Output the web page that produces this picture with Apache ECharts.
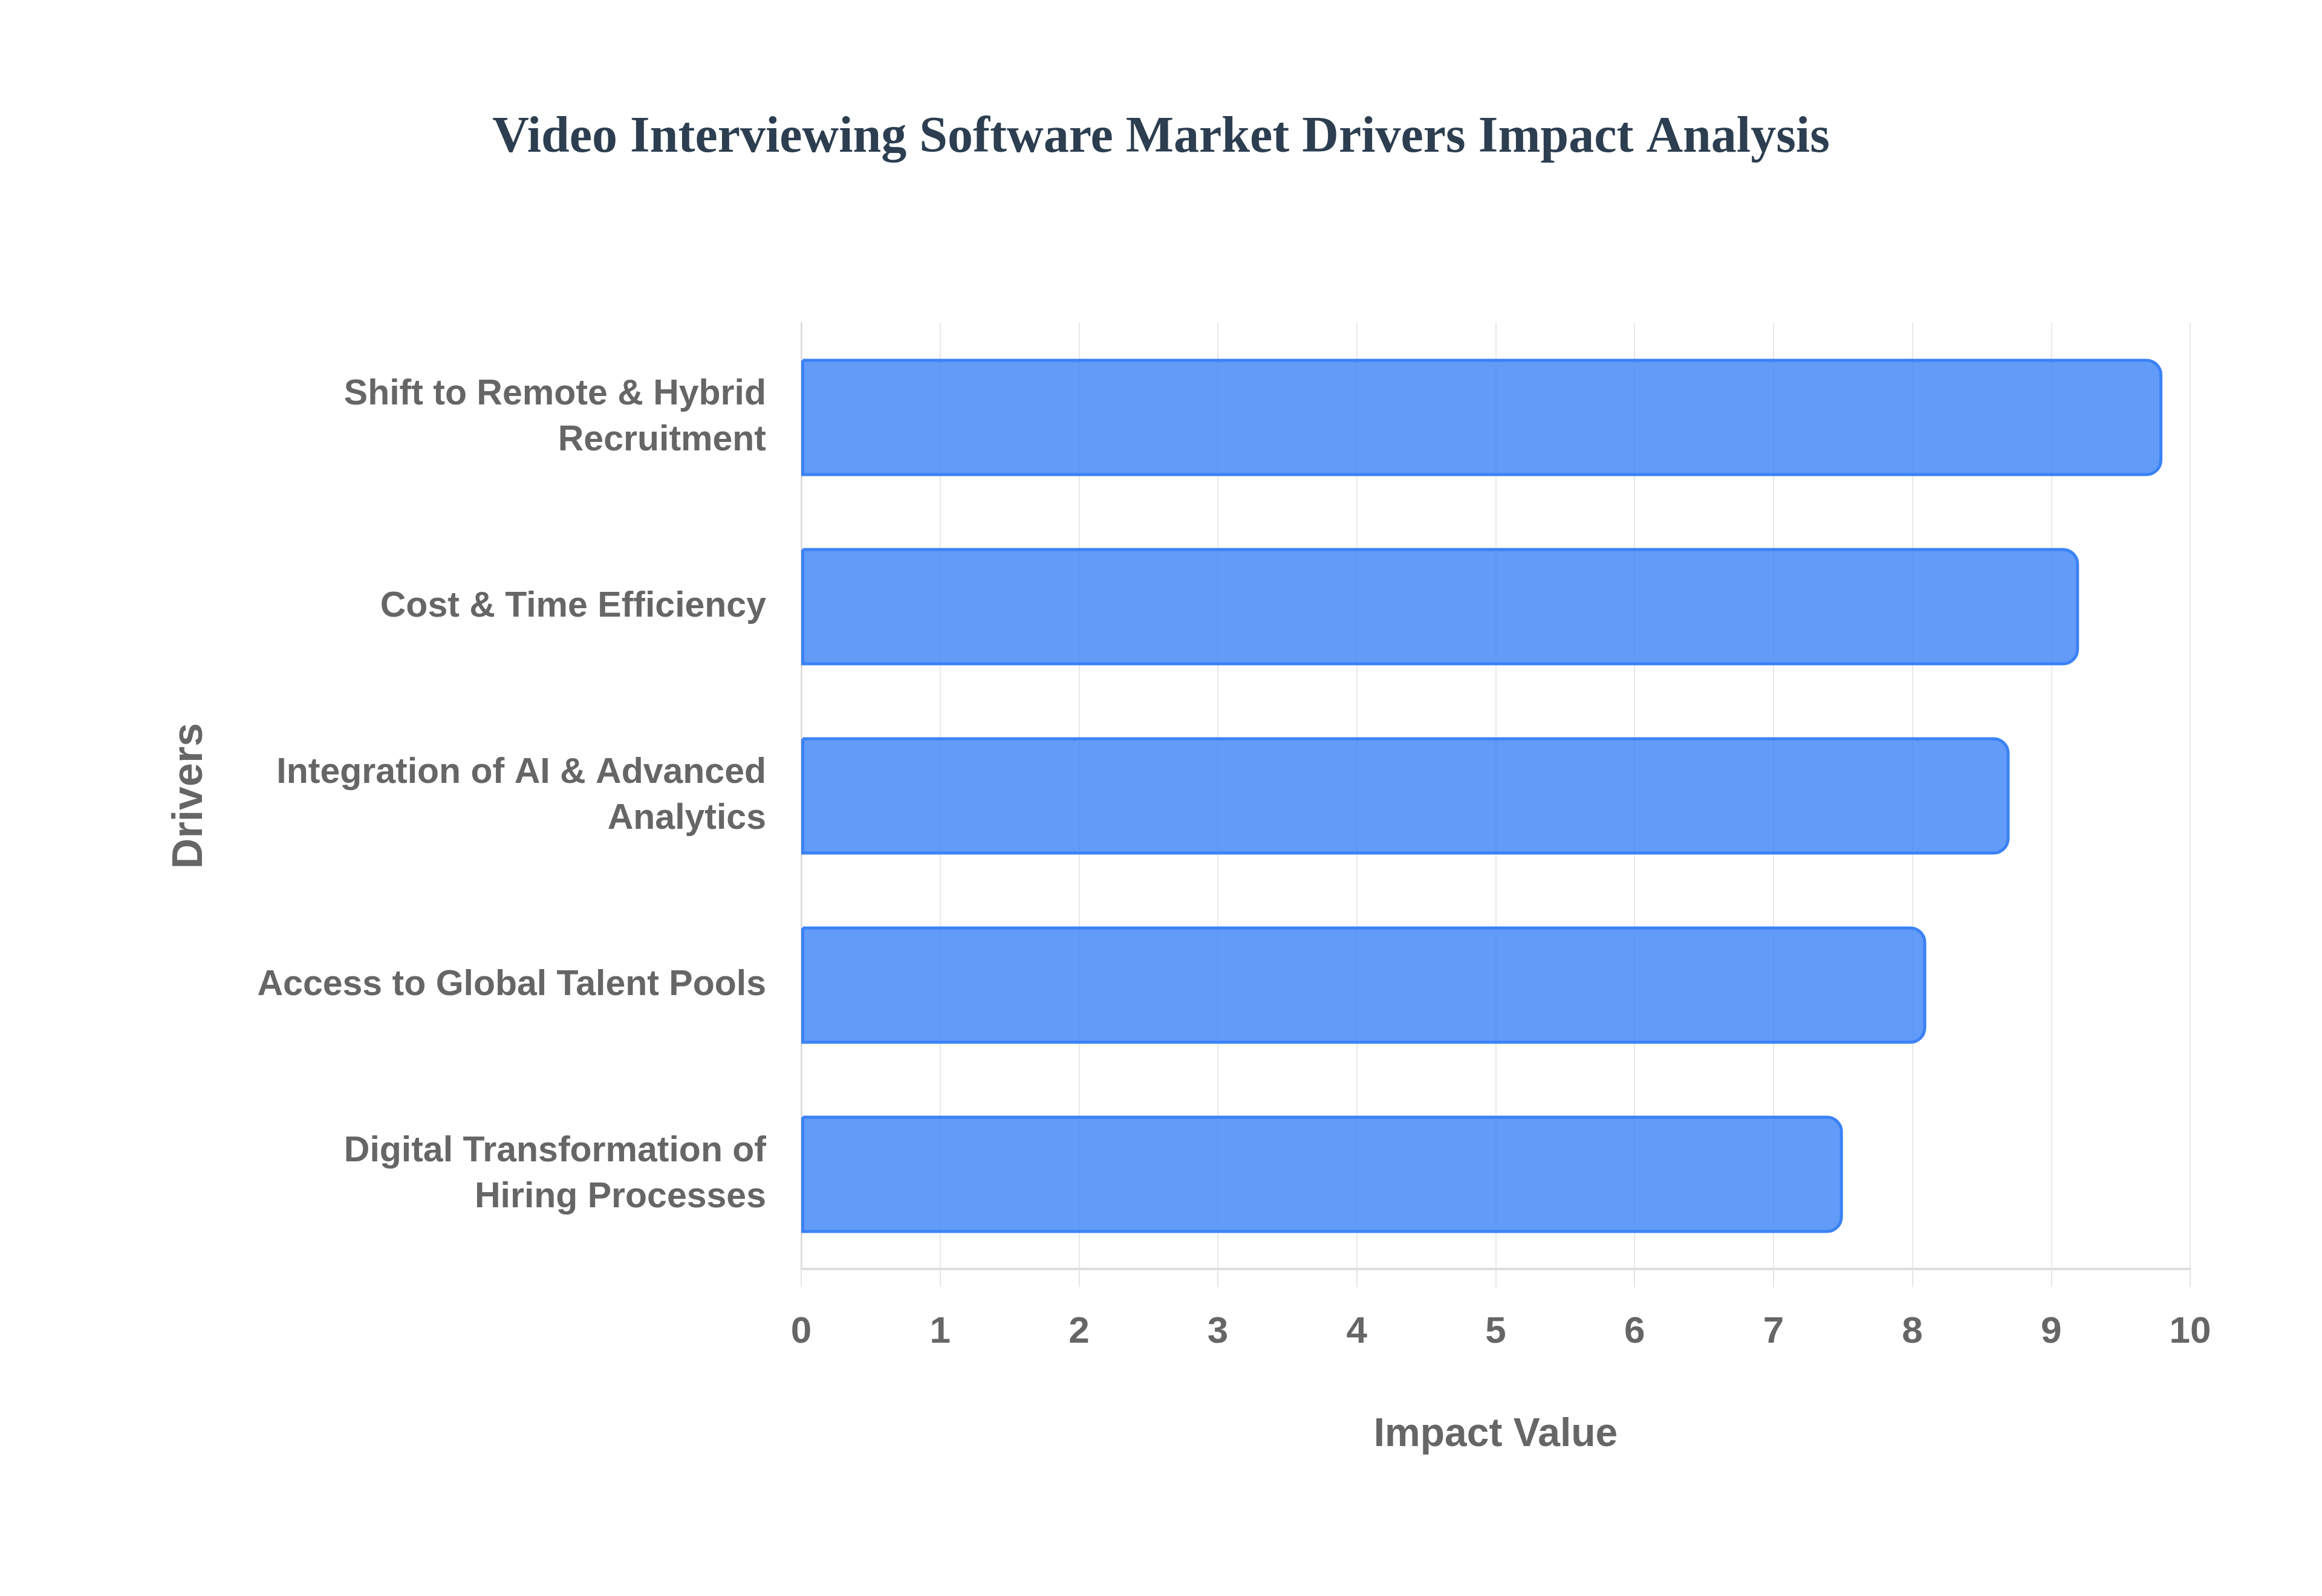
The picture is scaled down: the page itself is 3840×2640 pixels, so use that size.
<!DOCTYPE html>
<html>
<head>
<meta charset="utf-8">
<script src="https://cdn.jsdelivr.net/npm/echarts@6/dist/echarts.min.js"></script>
<style>
html,body{margin:0;padding:0;background:#fff;}
#chart{width:3840px;height:2640px;}
</style>
</head>
<body>
<div id="chart"></div>
<script>
const titleText = "Video Interviewing Software Market Drivers Impact Analysis";
const categories = [
  "Shift to Remote & Hybrid Recruitment",
  "Cost & Time Efficiency",
  "Integration of AI & Advanced Analytics",
  "Access to Global Talent Pools",
  "Digital Transformation of Hiring Processes"
];
const impactValues = [9.8, 9.2, 8.7, 8.1, 7.5];
const xAxisName = "Impact Value";
const yAxisName = "Drivers";

const font = "'Liberation Sans', Arial, sans-serif";
const labelSize = 59;
const wrapWidth = 870;

const measureCtx = document.createElement('canvas').getContext('2d');
measureCtx.font = 'bold ' + labelSize + 'px ' + font;
function wrapLabel(text) {
  const words = text.split(' ');
  const lines = [];
  let cur = '';
  words.forEach(function (w) {
    const test = cur ? cur + ' ' + w : w;
    if (cur && measureCtx.measureText(test).width > wrapWidth) {
      lines.push(cur);
      cur = w;
    } else {
      cur = test;
    }
  });
  if (cur) lines.push(cur);
  return lines.join('\n');
}

const chart = echarts.init(document.getElementById('chart'), null, {renderer: 'canvas'});
chart.setOption({
  backgroundColor: '#ffffff',
  animation: false,
  title: {
    text: titleText,
    left: 'center',
    top: 182,
    textStyle: {
      fontFamily: "'Liberation Serif', 'Times New Roman', serif",
      fontWeight: 'bold',
      fontSize: 84,
      color: '#2c3e50'
    }
  },
  grid: {left: 1325, right: 218, top: 534, bottom: 541, containLabel: false},
  xAxis: {
    type: 'value',
    min: 0,
    max: 10,
    interval: 1,
    name: xAxisName,
    nameLocation: 'middle',
    nameGap: 242,
    nameTextStyle: {fontFamily: font, fontWeight: 'bold', fontSize: 66, color: '#666666'},
    axisLine: {show: true, lineStyle: {color: '#dddddd', width: 4}},
    axisTick: {show: true, length: 30, lineStyle: {color: '#e5e5e5', width: 2}},
    axisLabel: {fontFamily: font, fontWeight: 'bold', fontSize: 62, color: '#666666', margin: 74},
    splitLine: {show: true, lineStyle: {color: '#e8e8e8', width: 2}}
  },
  yAxis: {
    type: 'category',
    data: categories,
    inverse: true,
    name: yAxisName,
    nameLocation: 'middle',
    nameGap: 975,
    nameRotate: 90,
    nameTextStyle: {fontFamily: font, fontWeight: 'bold', fontSize: 70, color: '#666666'},
    axisLine: {show: true, lineStyle: {color: '#dddddd', width: 3}},
    axisTick: {show: false},
    splitLine: {show: false},
    axisLabel: {
      fontFamily: font, fontWeight: 'bold', fontSize: labelSize, color: '#666666',
      margin: 58, lineHeight: 76, align: 'right',
      formatter: wrapLabel
    }
  },
  series: [{
    type: 'bar',
    data: impactValues,
    barWidth: '62%',
    itemStyle: {
      color: 'rgba(59,130,246,0.8)',
      borderColor: '#3b82f6',
      borderWidth: 5,
      borderRadius: [0, 24, 24, 0]
    },
    emphasis: {disabled: true}
  }]
});
</script>
</body>
</html>
